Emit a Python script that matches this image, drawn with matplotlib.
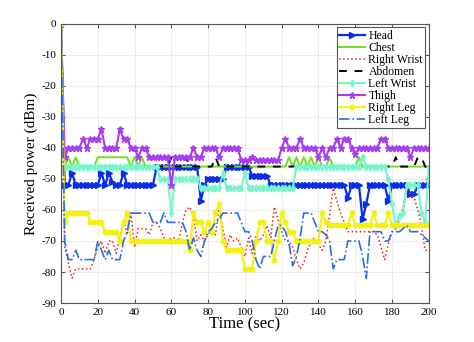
import numpy as np
import matplotlib
matplotlib.use('Agg')
import matplotlib.pyplot as plt

plt.rcParams['font.family'] = ['Liberation Serif', 'DejaVu Serif']
plt.rcParams['axes.unicode_minus'] = False

# sample times (sec), one reading every 2 s
time_s = np.arange(0, 201, 2)

head = [0, -52, -52, -48, -52, -52, -52, -52, -52, -52,
        -52, -48, -52, -48, -51, -52, -52, -48, -52, -52,
        -52, -52, -52, -52, -52, -52, -46, -46, -46, -46,
        -46, -46, -46, -46, -46, -46, -46, -46, -57, -52,
        -50, -50, -50, -50, -50, -46, -46, -46, -46, -46,
        -46, -46, -49, -49, -49, -49, -49, -52, -52, -52,
        -52, -52, -52, -52, -52, -52, -52, -52, -52, -52,
        -52, -52, -52, -52, -52, -52, -52, -52, -56, -52,
        -52, -52, -63, -58, -52, -52, -52, -52, -52, -57,
        -52, -52, -52, -52, -52, -55, -55, -52, -52, -52, -52]

chest = [0, -46, -43, -46, -43, -46, -46, -46, -46, -46,
         -43, -43, -43, -43, -43, -43, -43, -43, -43, -46,
         -43, -46, -43, -46, -46, -46, -46, -46, -46, -46,
         -46, -46, -46, -46, -46, -46, -46, -46, -46, -46,
         -46, -46, -46, -46, -46, -46, -46, -46, -46, -46,
         -46, -46, -46, -46, -46, -46, -46, -46, -46, -46,
         -46, -46, -43, -46, -43, -46, -43, -46, -43, -46,
         -43, -46, -46, -43, -46, -46, -46, -46, -46, -46,
         -46, -43, -46, -46, -46, -46, -46, -46, -46, -46,
         -46, -46, -46, -46, -46, -46, -46, -46, -46, -46, -46]

right_wrist = [0, -72, -77, -82, -79, -79, -79, -79, -79, -76,
               -72, -70, -74, -70, -70, -74, -69, -63, -68, -61,
               -72, -66, -66, -66, -68, -64, -64, -66, -69, -70,
               -69, -69, -70, -64, -60, -59, -62, -70, -68, -70,
               -68, -66, -68, -59, -66, -72, -68, -70, -69, -72,
               -75, -69, -74, -68, -70, -68, -65, -69, -59, -63,
               -67, -70, -70, -72, -76, -79, -77, -73, -70, -69,
               -71, -73, -70, -62, -53, -57, -61, -64, -67, -67,
               -67, -67, -67, -67, -67, -67, -68, -72, -76, -71,
               -67, -66, -63, -59, -53, -55, -56, -60, -65, -73, -73]

abdomen = [0, -46, -46, -46, -46, -46, -46, -46, -46, -46,
           -46, -46, -46, -46, -46, -46, -46, -46, -46, -46,
           -46, -46, -46, -46, -46, -46, -46, -46, -46, -46,
           -43, -46, -46, -46, -43, -46, -46, -46, -46, -46,
           -46, -46, -43, -46, -46, -46, -46, -46, -46, -46,
           -46, -46, -46, -46, -46, -46, -46, -46, -46, -46,
           -46, -46, -46, -46, -46, -46, -46, -46, -46, -46,
           -46, -46, -46, -46, -46, -46, -46, -46, -46, -46,
           -46, -46, -46, -46, -46, -46, -46, -46, -46, -46,
           -46, -43, -46, -46, -46, -46, -46, -43, -43, -46, -46]

left_wrist = [0, -46, -46, -46, -46, -46, -46, -46, -46, -46,
              -46, -46, -46, -46, -46, -46, -46, -46, -46, -46,
              -46, -46, -46, -46, -46, -46, -46, -50, -50, -50,
              -61, -50, -50, -50, -50, -50, -50, -50, -53, -53,
              -53, -53, -53, -53, -48, -53, -53, -53, -53, -53,
              -48, -53, -53, -53, -53, -53, -53, -53, -53, -53,
              -53, -53, -53, -53, -46, -46, -46, -46, -46, -46,
              -46, -46, -46, -46, -46, -46, -46, -46, -46, -46,
              -46, -46, -43, -46, -46, -46, -46, -46, -46, -50,
              -58, -65, -62, -61, -52, -52, -52, -52, -61, -64, -46]

thigh = [0, -43, -40, -40, -40, -40, -37, -40, -37, -37,
         -37, -34, -40, -40, -40, -40, -34, -37, -37, -40,
         -40, -43, -40, -40, -43, -43, -43, -43, -43, -43,
         -52, -43, -43, -43, -43, -43, -40, -43, -43, -40,
         -40, -40, -40, -43, -40, -40, -40, -40, -40, -44,
         -44, -44, -43, -44, -44, -44, -44, -44, -44, -44,
         -40, -37, -40, -40, -40, -37, -40, -40, -40, -40,
         -43, -40, -43, -40, -40, -37, -40, -37, -37, -40,
         -42, -40, -40, -40, -40, -40, -40, -37, -37, -40,
         -40, -40, -40, -40, -40, -43, -40, -40, -40, -40, -40]

right_leg = [0, -64, -61, -61, -61, -61, -61, -61, -64, -64,
             -64, -64, -67, -67, -67, -67, -70, -64, -61, -70,
             -70, -70, -70, -70, -70, -70, -70, -70, -70, -70,
             -70, -70, -70, -70, -70, -73, -61, -64, -64, -67,
             -64, -67, -61, -58, -70, -73, -73, -73, -73, -73,
             -79, -79, -79, -70, -64, -64, -70, -70, -76, -70,
             -61, -64, -67, -67, -70, -70, -70, -70, -70, -70,
             -70, -61, -64, -65, -65, -65, -65, -65, -65, -61,
             -65, -65, -65, -65, -65, -61, -65, -65, -65, -61,
             -65, -65, -65, -65, -65, -65, -65, -65, -65, -65, -65]

left_leg = [0, -70, -76, -76, -73, -76, -76, -76, -76, -76,
            -70, -73, -76, -73, -76, -76, -76, -70, -67, -61,
            -61, -61, -61, -61, -61, -64, -64, -64, -61, -64,
            -64, -64, -64, -64, -67, -73, -69, -73, -75, -70,
            -67, -66, -64, -63, -61, -61, -61, -61, -61, -64,
            -67, -67, -70, -76, -79, -75, -75, -75, -70, -65,
            -65, -67, -71, -78, -75, -69, -61, -61, -61, -64,
            -67, -67, -68, -70, -79, -76, -76, -76, -70, -70,
            -70, -70, -75, -82, -67, -67, -67, -67, -70, -70,
            -67, -67, -67, -66, -65, -67, -67, -67, -68, -69, -70]

fig = plt.figure(figsize=(4.74, 3.42), dpi=100)
ax = fig.add_axes([0.1287, 0.114, 0.776, 0.816])

ax.plot(time_s, head, color='#0a2ee8', lw=1.6, marker='>', ms=4, label='Head')
ax.plot(time_s, chest, color='#6ee01e', lw=1.4, label='Chest')
ax.plot(time_s, right_wrist, color='#f02020', lw=1.1, ls=':', label='Right Wrist')
ax.plot(time_s, abdomen, color='black', lw=1.4, ls=(0, (4, 4)), label='Abdomen')
ax.plot(time_s, left_wrist, color='#78f5cc', lw=1.5, marker='d', ms=3.5, label='Left Wrist')
ax.plot(time_s, thigh, color='#a83cf0', lw=1.5, marker='*', ms=5, label='Thigh')
ax.plot(time_s, right_leg, color='#f2f20a', lw=1.5, marker='h', ms=3.5, label='Right Leg')
ax.plot(time_s, left_leg, color='#2a6fe0', lw=1.2, ls='-.', label='Left Leg')

ax.set_xlim(0, 200)
ax.set_ylim(-90, 0)
ax.set_xticks(np.arange(0, 201, 20))
ax.set_yticks(np.arange(-90, 1, 10))
ax.grid(True, color='#e8e8e8', lw=0.6)
ax.set_axisbelow(True)
ax.tick_params(direction='in', top=True, right=True, labelsize=8, length=3,
               color='#555555')
for s in ax.spines.values():
    s.set_color('#555555')
    s.set_linewidth(0.8)

ax.set_xlabel('Time (sec)', fontsize=12, labelpad=0)
ax.set_ylabel('Received power (dBm)', fontsize=11, labelpad=2)

leg = ax.legend(loc='upper right', fontsize=8.5, handlelength=2.2,
                labelspacing=0.0, borderpad=0.2, handletextpad=0.3,
                borderaxespad=0.3, fancybox=False, framealpha=1)
leg.get_frame().set_edgecolor('#555555')
leg.get_frame().set_linewidth(0.8)

fig.savefig('out.png', dpi=100)
